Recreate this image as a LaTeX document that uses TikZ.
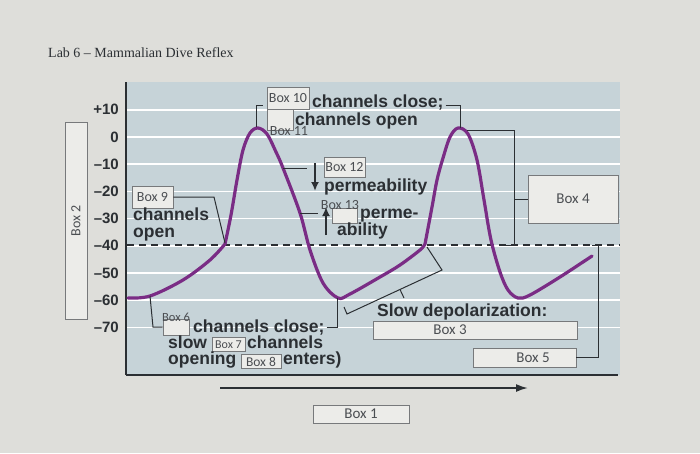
\documentclass[tikz,border=0pt]{standalone}
\usepackage{fontspec}
\setmainfont{Liberation Serif}
\setsansfont{Liberation Sans}
\newfontfamily\boxfont{Carlito}
\usetikzlibrary{arrows.meta}

\definecolor{pagebg}{HTML}{DEDEDA}
\definecolor{chartbg}{HTML}{C6D3D8}
\definecolor{spike}{HTML}{7A2C85}
\definecolor{boxfill}{HTML}{ECECE9}
\definecolor{boxedge}{HTML}{77797B}
\definecolor{ink}{HTML}{2B2F33}

\tikzset{
  blank/.style={draw=boxedge, fill=boxfill, line width=0.8pt, inner sep=0pt,
    font=\boxfont\fontsize{14}{16}\selectfont, text=ink!85},
  boxtext/.style={font=\boxfont\fontsize{14}{16}\selectfont, text=ink!85, inner sep=0pt},
  lbl/.style={font=\sffamily\bfseries\fontsize{17.5}{20}\selectfont, text=ink,
    inner sep=0pt, anchor=base west},
  ticklbl/.style={font=\sffamily\bfseries\fontsize{15}{17}\selectfont, text=ink,
    inner sep=0pt, anchor=east},
  lead/.style={draw=ink, line width=1pt},
  upright/.style={draw=ink, line width=1.8pt, -{Latex[length=9pt,width=8pt]}},
}

\begin{document}
\begin{tikzpicture}[x=1pt,y=-1pt,>=Latex]
    \useasboundingbox (0,0) rectangle (700,453);
    % page and chart area
    \fill[pagebg] (0,0) rectangle (700,453);
    \fill[chartbg] (126,82) rectangle (620,375);
    \node[font=\fontsize{14}{16}\selectfont, text=ink, anchor=base west, inner sep=0pt]
        (title) at (48,57) {Lab 6 – Mammalian Dive Reflex};

    % grid lines and millivolt labels
    \foreach \v/\vtext in {10/+10,0/0,-10/–10,-20/–20,-30/–30,-40/–40,-50/–50,-60/–60,-70/–70} {
            \draw[white, line width=1.6pt] (127,{137-2.72*\v}) -- (620,{137-2.72*\v});
            \node[ticklbl] (mv\v) at (119,{137-2.72*\v}) {\vtext};
    }
    % threshold
    \draw[ink, line width=1.2pt, dash pattern=on 7pt off 5pt] (127,245) -- (620,245);
    % axes
    \draw[ink, line width=1.6pt] (126,82) -- (126,375);
    \draw[ink, line width=2pt] (126,375) -- (618,375);

    % Box 2 on the voltage axis
    \node[blank, rotate=90, minimum width=197pt, minimum height=22pt] (box2) at (76,220.5) {Box 2};

    % the action potentials
    \draw[spike, line width=3.2pt, line cap=round, line join=round]
        plot[smooth, tension=0.55] coordinates {(128,298) (150,296) (183,280) (210,260) (225,244)}
        plot[smooth, tension=0.55] coordinates {(225,244) (231,215) (237,180) (243,150) (250,133)
            (258,128) (267,134) (276,152) (283,168) (300,213) (310,250) (323,283) (338,298)
            (350,294) (380,277) (400,265) (420,250) (425,244)}
        plot[smooth, tension=0.55] coordinates {(425,244) (432,207) (437,180) (443,158) (450,137)
            (458,128) (468,134) (477,160) (484,200) (491,240) (500,272) (508,290) (518,298)
            (530,295) (560,277) (592,256)};
    \coordinate (restA) at (150,296);
    \coordinate (threshA) at (225,243);
    \coordinate (threshB) at (427,247);
    \coordinate (tipA) at (256,127);
    \coordinate (tipB) at (460,128);
    \coordinate (shoulderB) at (467,130);
    \coordinate (fallA1) at (283,168);
    \coordinate (fallA2) at (300,213);
    \coordinate (troughA) at (337,298);

    % Box 10 / Box 11
    \node[blank, minimum width=42pt, minimum height=22pt] (box10) at (288,98) {Box 10};
    \node[blank, minimum width=26pt, minimum height=21pt] (box11) at (280,119.5) {};
    \node[boxtext] (box11txt) at (289,131) {Box 11};
    \node[lbl] (close1) at (312,107) {channels close;};
    \node[lbl] (open1) at (295,125) {channels open};
    \coordinate (brA) at (263,105);
    \draw[lead] (tipA) |- (brA);
    \draw[lead] ([shift={(2pt,-3pt)}]close1.east) -| (tipB);

    % Box 12
    \node[blank, minimum width=41pt, minimum height=20pt] (box12) at (344.5,167) {Box 12};
    \node[lbl] (perm1) at (324,191) {permeability};
    \coordinate (lead12) at (307,168);
    \draw[lead] (fallA1) -- (lead12);
    \coordinate (dnTop) at (315,163);
    \coordinate (dnTip) at (315,191);
    \draw[upright] (dnTop) -- (dnTip);

    % Box 13
    \node[blank, minimum width=25pt, minimum height=15pt] (box13) at (344.5,215.5) {};
    \node[boxtext] (box13txt) at (340,205) {Box 13};
    \node[lbl] (perm2) at (360,218) {perme-};
    \node[lbl] (perm3) at (337,235) {ability};
    \coordinate (lead13) at (318,213);
    \draw[lead] (fallA2) -- (lead13);
    \coordinate (upBot) at (326,235);
    \coordinate (upTip) at (326,207);
    \draw[upright] (upBot) -- (upTip);

    % Box 9
    \node[blank, minimum width=41pt, minimum height=22pt] (box9) at (152.5,197) {Box 9};
    \node[lbl] (chan9) at (133,220) {channels};
    \node[lbl] (open9) at (133,237) {open};
    \coordinate (bend9) at (214,197);
    \draw[lead] (box9.east) -- (bend9) -- (threshA);

    % Box 6, Box 7, Box 8
    \node[blank, minimum width=26pt, minimum height=16pt] (box6) at (176,327) {};
    \node[boxtext, font=\boxfont\fontsize{12.5}{14}\selectfont] (box6txt) at (176,317) {Box 6};
    \node[lbl] (close2) at (193,332) {channels close;};
    \node[lbl] (slow) at (168,348) {slow};
    \node[blank, minimum width=33pt, minimum height=14pt,
        font=\boxfont\fontsize{12}{13}\selectfont] (box7) at (228.5,344.5) {Box 7};
    \node[lbl] (chan7) at (247,348) {channels};
    \node[lbl] (opening) at (168,364.5) {opening};
    \node[blank, minimum width=40pt, minimum height=14pt,
        font=\boxfont\fontsize{13.5}{14}\selectfont] (box8) at (261,361.5) {Box 8};
    \node[lbl] (enters) at (283,364.5) {enters)};
    \coordinate (bend6) at (153,327);
    \draw[lead] (restA) -- (bend6) -- (box6.west);
    \draw[lead] ([xshift=2pt]close2.east) -| (troughA);

    % slow depolarization, Box 3 and Box 5
    \coordinate (sd1) at (344,307);
    \coordinate (sd2) at (347,314);
    \coordinate (sd3) at (442,270);
    \coordinate (sdMid) at (400,289.5);
    \coordinate (sdTick) at (404,298);
    \draw[lead] (sd1) -- (sd2) -- (sd3) -- (threshB);
    \draw[lead] (sdMid) -- (sdTick);
    \node[lbl] (slowdep) at (377,316) {Slow depolarization:};
    \node[blank, minimum width=204pt, minimum height=18pt] (box3) at (475,330) {};
    \node[boxtext, font=\boxfont\fontsize{15}{17}\selectfont] (box3txt) at (450,330) {Box 3};
    \node[blank, minimum width=103pt, minimum height=19pt] (box5) at (524.5,357.5) {};
    \node[boxtext, font=\boxfont\fontsize{15}{17}\selectfont] (box5txt) at (533,357.5) {Box 5};
    \coordinate (b5a) at (598,357.5);
    \coordinate (b5b) at (598,245);
    \coordinate (b5c) at (592,245);
    \draw[lead] (box5.east) -- (b5a) -- (b5b) -- (b5c);

    % Box 4
    \node[blank, minimum width=90pt, minimum height=48pt,
        font=\boxfont\fontsize{15}{17}\selectfont] (box4) at (573,199) {Box 4};
    \coordinate (b4a) at (514,130);
    \coordinate (b4b) at (514,245);
    \coordinate (b4c) at (500,245);
    \coordinate (b4mid) at (514,199);
    \draw[lead] (shoulderB) -- (b4a) -- (b4b) -- (b4c);
    \draw[lead] (b4mid) -- (box4.west);

    % time axis and Box 1
    \coordinate (tStart) at (220,388);
    \coordinate (tEnd) at (528,388);
    \draw[ink, line width=1.8pt, -{Latex[length=12pt,width=8pt]}] (tStart) -- (tEnd);
    \node[blank, minimum width=96pt, minimum height=18pt,
        font=\boxfont\fontsize{15}{17}\selectfont] (box1) at (361,414) {Box 1};
\end{tikzpicture}
\end{document}
